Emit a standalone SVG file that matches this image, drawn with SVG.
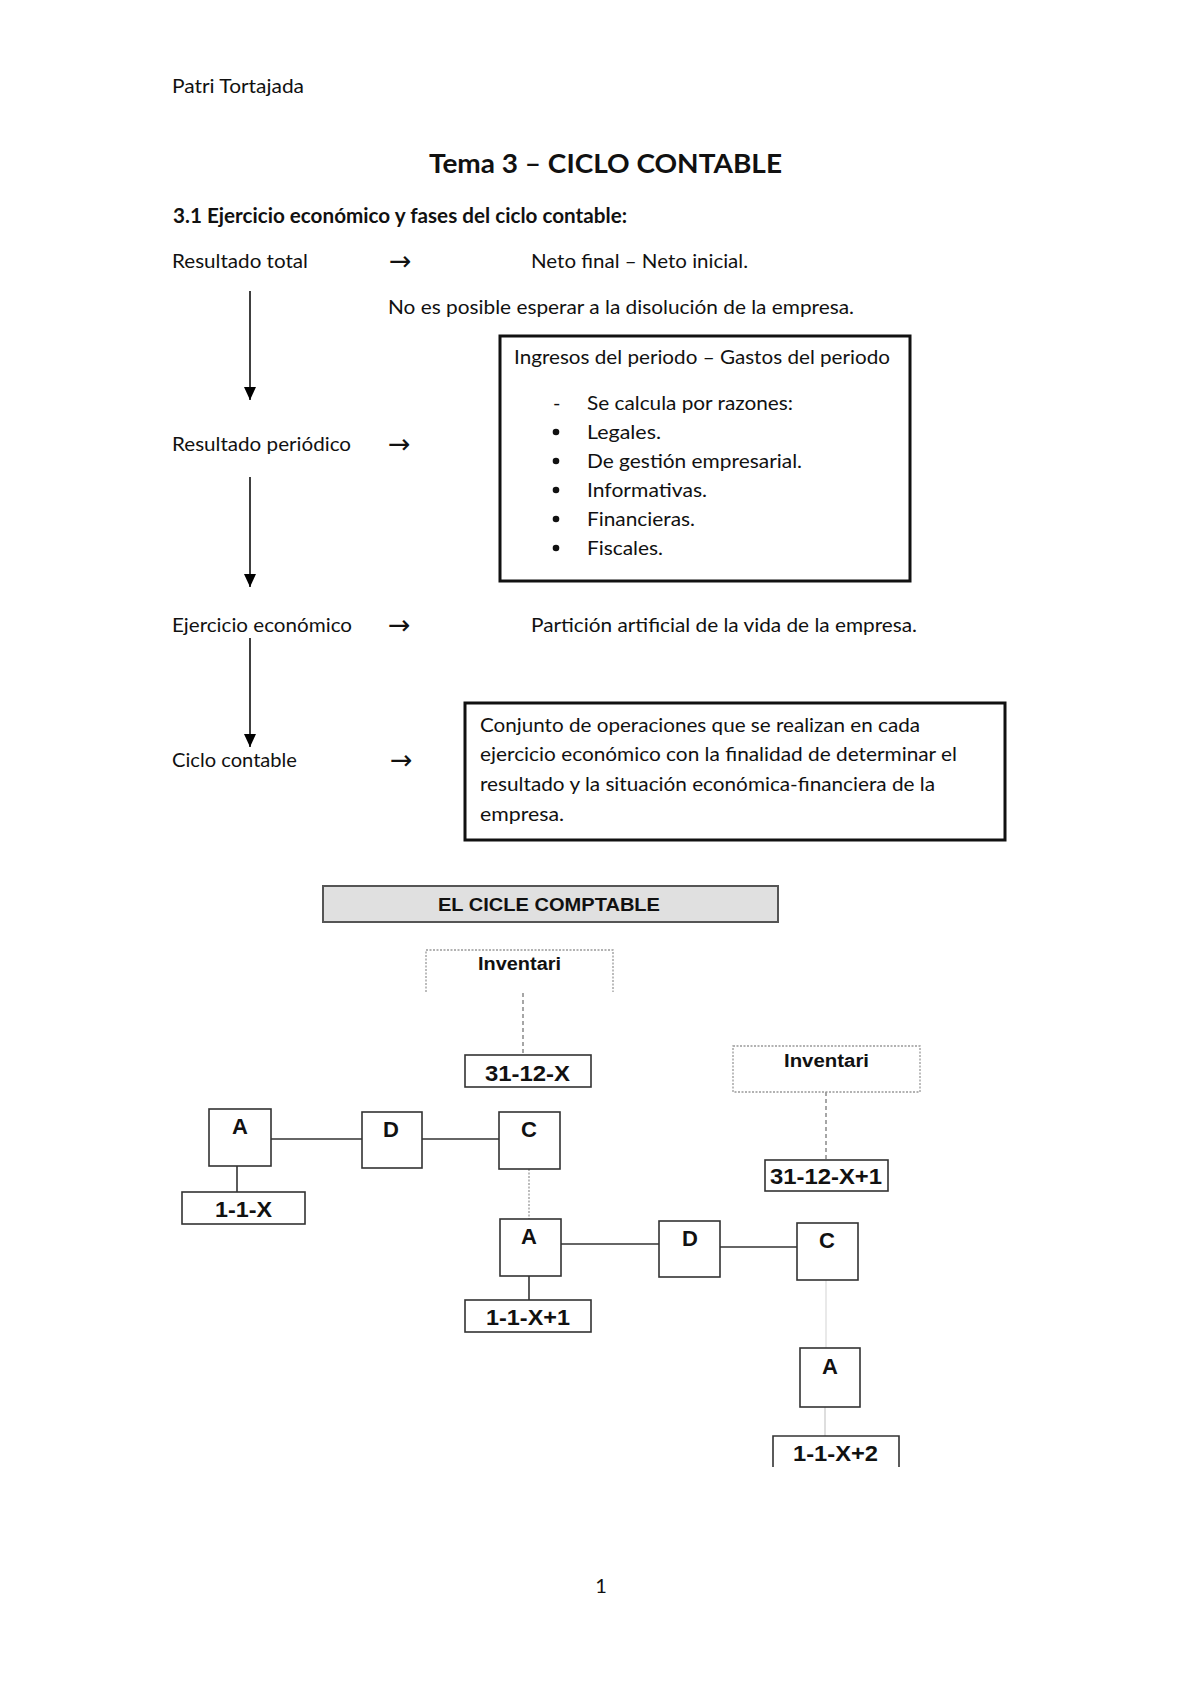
<svg xmlns="http://www.w3.org/2000/svg" width="1200" height="1698" viewBox="0 0 1200 1698">
<style>
.b{font-family:Lato,'Open Sans','Liberation Sans',sans-serif;font-size:20px;fill:#111}
.bb{font-family:Lato,'Open Sans','Liberation Sans',sans-serif;font-weight:bold;fill:#111}
.ar{font-family:'DejaVu Sans',sans-serif;font-size:27px;fill:#111}
.d{font-family:'Liberation Sans',Arial,sans-serif;font-weight:bold;fill:#111}
.box{fill:#fff;stroke:#333;stroke-width:1.6}
.tbox{fill:none;stroke:#111;stroke-width:3}
.line{stroke:#333;stroke-width:1.6;fill:none}
.dash{stroke:#777;stroke-width:1.3;stroke-dasharray:4 3;fill:none}
.dot{stroke:#999;stroke-width:1.3;stroke-dasharray:2 1.5;fill:none}
.faint{stroke:#ddd;stroke-width:1.3;fill:none}
</style>
<defs>
<marker id="ah" markerWidth="13" markerHeight="12" refX="13" refY="6" orient="auto" markerUnits="userSpaceOnUse" viewBox="0 0 13 12">
<path d="M0,0 L13,6 L0,12 Z" fill="#000"/>
</marker>
</defs>
<rect width="1200" height="1698" fill="#fff"/>

<g id="header">
<text class="b" x="172" y="93" textLength="132" lengthAdjust="spacingAndGlyphs">Patri Tortajada</text>
<text class="bb" x="429" y="173" font-size="27" textLength="353" lengthAdjust="spacingAndGlyphs">Tema 3 – CICLO CONTABLE</text>
<text class="bb" x="173" y="223" font-size="20" textLength="454" lengthAdjust="spacingAndGlyphs">3.1 Ejercicio económico y fases del ciclo contable:</text>
</g>

<g id="connectors">
<line x1="250" y1="291" x2="250" y2="400" stroke="#000" stroke-width="1.5" marker-end="url(#ah)"/>
<line x1="250" y1="477" x2="250" y2="587" stroke="#000" stroke-width="1.5" marker-end="url(#ah)"/>
<line x1="250" y1="638" x2="250" y2="747" stroke="#000" stroke-width="1.5" marker-end="url(#ah)"/>
<line class="dash" x1="523" y1="993" x2="523" y2="1055"/>
<line class="dash" x1="826" y1="1092" x2="826" y2="1160"/>
<line class="line" x1="271" y1="1139" x2="362" y2="1139"/>
<line class="line" x1="422" y1="1139" x2="499" y2="1139"/>
<line class="line" x1="237" y1="1166" x2="237" y2="1192"/>
<line class="dot" x1="529" y1="1169" x2="529" y2="1219"/>
<line class="line" x1="561" y1="1244" x2="659" y2="1244"/>
<line class="line" x1="720" y1="1247" x2="797" y2="1247"/>
<line class="line" x1="529" y1="1276" x2="529" y2="1300"/>
<line class="faint" x1="826" y1="1280" x2="826" y2="1348"/>
<line stroke="#ccc" stroke-width="1.3" x1="825" y1="1407" x2="825" y2="1436"/>
</g>

<g id="resultado-total">
<text class="b" x="172" y="268" textLength="136" lengthAdjust="spacingAndGlyphs">Resultado total</text>
<text class="ar" x="389" y="270">→</text>
<text class="b" x="531" y="268" textLength="217" lengthAdjust="spacingAndGlyphs">Neto final – Neto inicial.</text>
<text class="b" x="388" y="314" textLength="466" lengthAdjust="spacingAndGlyphs">No es posible esperar a la disolución de la empresa.</text>
</g>

<g id="resultado-periodico">
<text class="b" x="172" y="451" textLength="179" lengthAdjust="spacingAndGlyphs">Resultado periódico</text>
<text class="ar" x="388" y="453">→</text>
<rect class="tbox" x="500" y="336" width="410" height="245"/>
<text class="b" x="514" y="364" textLength="376" lengthAdjust="spacingAndGlyphs">Ingresos del periodo – Gastos del periodo</text>
<text class="b" x="553" y="410">-</text>
<text class="b" x="587" y="410" textLength="206" lengthAdjust="spacingAndGlyphs">Se calcula por razones:</text>
<circle cx="556" cy="432" r="3.3" fill="#111"/>
<text class="b" x="587" y="439" textLength="74" lengthAdjust="spacingAndGlyphs">Legales.</text>
<circle cx="556" cy="461" r="3.3" fill="#111"/>
<text class="b" x="587" y="468" textLength="215" lengthAdjust="spacingAndGlyphs">De gestión empresarial.</text>
<circle cx="556" cy="490" r="3.3" fill="#111"/>
<text class="b" x="587" y="497" textLength="120" lengthAdjust="spacingAndGlyphs">Informativas.</text>
<circle cx="556" cy="519" r="3.3" fill="#111"/>
<text class="b" x="587" y="526" textLength="108" lengthAdjust="spacingAndGlyphs">Financieras.</text>
<circle cx="556" cy="548" r="3.3" fill="#111"/>
<text class="b" x="587" y="555" textLength="76" lengthAdjust="spacingAndGlyphs">Fiscales.</text>
</g>

<g id="ejercicio-economico">
<text class="b" x="172" y="632" textLength="180" lengthAdjust="spacingAndGlyphs">Ejercicio económico</text>
<text class="ar" x="388" y="634">→</text>
<text class="b" x="531" y="632" textLength="386" lengthAdjust="spacingAndGlyphs">Partición artificial de la vida de la empresa.</text>
</g>

<g id="ciclo-contable">
<text class="b" x="172" y="767" textLength="125" lengthAdjust="spacingAndGlyphs">Ciclo contable</text>
<text class="ar" x="390" y="769">→</text>
<rect class="tbox" x="465" y="703" width="540" height="137"/>
<text class="b" x="480" y="732" textLength="440" lengthAdjust="spacingAndGlyphs">Conjunto de operaciones que se realizan en cada</text>
<text class="b" x="480" y="761" textLength="477" lengthAdjust="spacingAndGlyphs">ejercicio económico con la finalidad de determinar el</text>
<text class="b" x="480" y="791" textLength="455" lengthAdjust="spacingAndGlyphs">resultado y la situación económica-financiera de la</text>
<text class="b" x="480" y="821" textLength="84" lengthAdjust="spacingAndGlyphs">empresa.</text>
</g>

<g id="cicle-title">
<rect x="323" y="886" width="455" height="36" fill="#e0e0e0" stroke="#555" stroke-width="2"/>
<text class="d" x="438" y="911" font-size="19" textLength="222" lengthAdjust="spacingAndGlyphs">EL CICLE COMPTABLE</text>
</g>

<g id="inventari-1">
<path class="dot" d="M426,992 L426,950 L613,950 L613,992"/>
<text class="d" x="478" y="970" font-size="18" textLength="83" lengthAdjust="spacingAndGlyphs">Inventari</text>
</g>
<g id="date-31-12-X">
<rect class="box" x="465" y="1055" width="126" height="32"/>
<text class="d" x="485" y="1081" font-size="22" textLength="85" lengthAdjust="spacingAndGlyphs">31-12-X</text>
</g>
<g id="inventari-2">
<rect class="dot" x="733" y="1046" width="187" height="46"/>
<text class="d" x="784" y="1067" font-size="18" textLength="85" lengthAdjust="spacingAndGlyphs">Inventari</text>
</g>
<g id="date-31-12-X1">
<rect class="box" x="765" y="1160" width="123" height="31"/>
<text class="d" x="770" y="1184" font-size="22" textLength="112" lengthAdjust="spacingAndGlyphs">31-12-X+1</text>
</g>

<g id="A1">
<rect class="box" x="209" y="1109" width="62" height="57"/>
<text class="d" x="240" y="1134" font-size="22" text-anchor="middle">A</text>
</g>
<g id="D1">
<rect class="box" x="362" y="1112" width="60" height="56"/>
<text class="d" x="391" y="1137" font-size="22" text-anchor="middle">D</text>
</g>
<g id="C1">
<rect class="box" x="499" y="1112" width="61" height="57"/>
<text class="d" x="529" y="1137" font-size="22" text-anchor="middle">C</text>
</g>
<g id="date-1-1-X">
<rect class="box" x="182" y="1192" width="123" height="32"/>
<text class="d" x="215" y="1217" font-size="22" textLength="57" lengthAdjust="spacingAndGlyphs">1-1-X</text>
</g>

<g id="A2">
<rect class="box" x="500" y="1219" width="61" height="57"/>
<text class="d" x="529" y="1244" font-size="22" text-anchor="middle">A</text>
</g>
<g id="D2">
<rect class="box" x="659" y="1221" width="61" height="56"/>
<text class="d" x="690" y="1246" font-size="22" text-anchor="middle">D</text>
</g>
<g id="C2">
<rect class="box" x="797" y="1223" width="61" height="57"/>
<text class="d" x="827" y="1248" font-size="22" text-anchor="middle">C</text>
</g>
<g id="date-1-1-X1">
<rect class="box" x="465" y="1300" width="126" height="32"/>
<text class="d" x="486" y="1325" font-size="22" textLength="84" lengthAdjust="spacingAndGlyphs">1-1-X+1</text>
</g>

<g id="A3">
<rect class="box" x="800" y="1348" width="60" height="59"/>
<text class="d" x="830" y="1374" font-size="22" text-anchor="middle">A</text>
</g>
<g id="date-1-1-X2">
<path d="M773,1467 L773,1436 L899,1436 L899,1467" fill="#fff" stroke="#333" stroke-width="1.6"/>
<text class="d" x="793" y="1461" font-size="22" textLength="85" lengthAdjust="spacingAndGlyphs">1-1-X+2</text>
</g>

<g id="page-number">
<text class="b" x="601" y="1593" text-anchor="middle">1</text>
</g>
</svg>
